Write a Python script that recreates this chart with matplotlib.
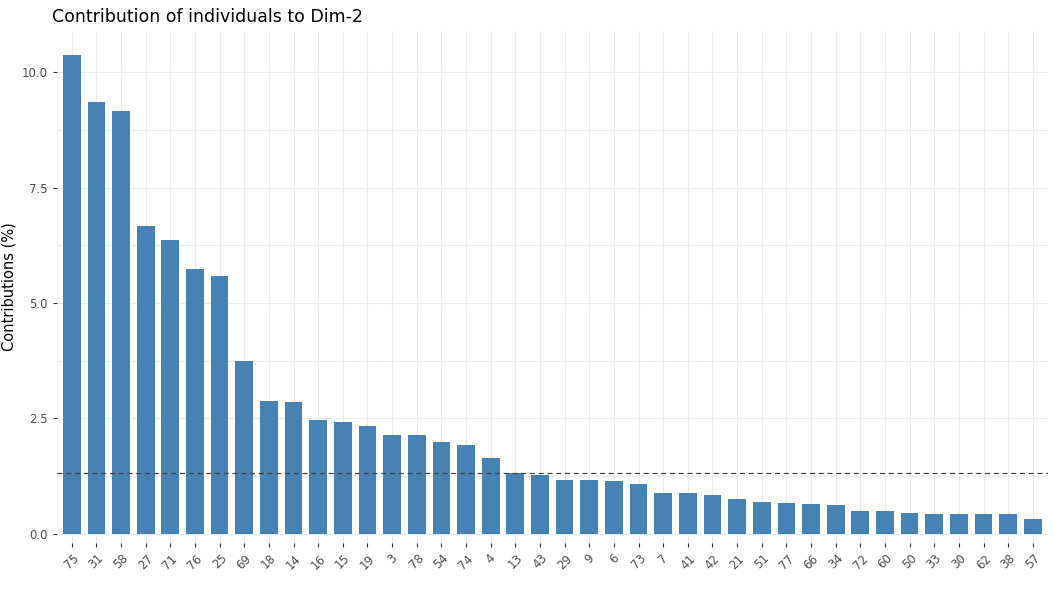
import numpy as np
import matplotlib.pyplot as plt

labels = ['75', '31', '58', '27', '71', '76', '25', '69', '18', '14', '16', '15', '19', '3',
          '78', '54', '74', '4', '13', '43', '29', '9', '6', '73', '7', '41', '42', '21',
          '51', '77', '66', '34', '72', '60', '50', '33', '30', '62', '38', '57']
contrib = [10.37, 9.35, 9.16, 6.67, 6.36, 5.74, 5.58, 3.74, 2.88, 2.86, 2.47, 2.42, 2.34, 2.14,
           2.14, 1.99, 1.93, 1.64, 1.32, 1.26, 1.17, 1.17, 1.15, 1.08, 0.89, 0.87, 0.84, 0.74,
           0.69, 0.67, 0.65, 0.61, 0.50, 0.50, 0.45, 0.43, 0.43, 0.43, 0.43, 0.32]
expected = 100 / 76

fig, ax = plt.subplots(figsize=(10.55, 5.9), dpi=100)
fig.subplots_adjust(left=0.054, right=0.993, top=0.948, bottom=0.08)
x = np.arange(len(labels))
ax.bar(x, contrib, width=0.72, color='#4682B4', zorder=2)
ax.axhline(expected, color='#444444', linestyle=(0, (4, 3)), linewidth=0.9, zorder=3)

ax.set_xlim(-0.6, len(labels) - 0.4)
ax.set_ylim(-0.2, 10.9)
ax.set_yticks([0, 2.5, 5.0, 7.5, 10.0])
ax.set_yticklabels(['0.0', '2.5', '5.0', '7.5', '10.0'], color='#4D4D4D', fontsize=8.5)
ax.set_yticks([1.25, 3.75, 6.25, 8.75], minor=True)
ax.set_xticks(x)
ax.set_xticklabels(labels, rotation=45, color='#4D4D4D', fontsize=8.5)
ax.tick_params(axis='both', which='both', length=3, color='#333333')
ax.tick_params(axis='y', which='minor', length=0)
ax.grid(True, which='both', color='#EBEBEB', linewidth=0.8, zorder=0)
for s in ax.spines.values():
    s.set_visible(False)
ax.set_ylabel('Contributions (%)', fontsize=10.5)
ax.set_title('Contribution of individuals to Dim-2', loc='left', fontsize=12.5, x=-0.005)
fig.savefig('out.png')
